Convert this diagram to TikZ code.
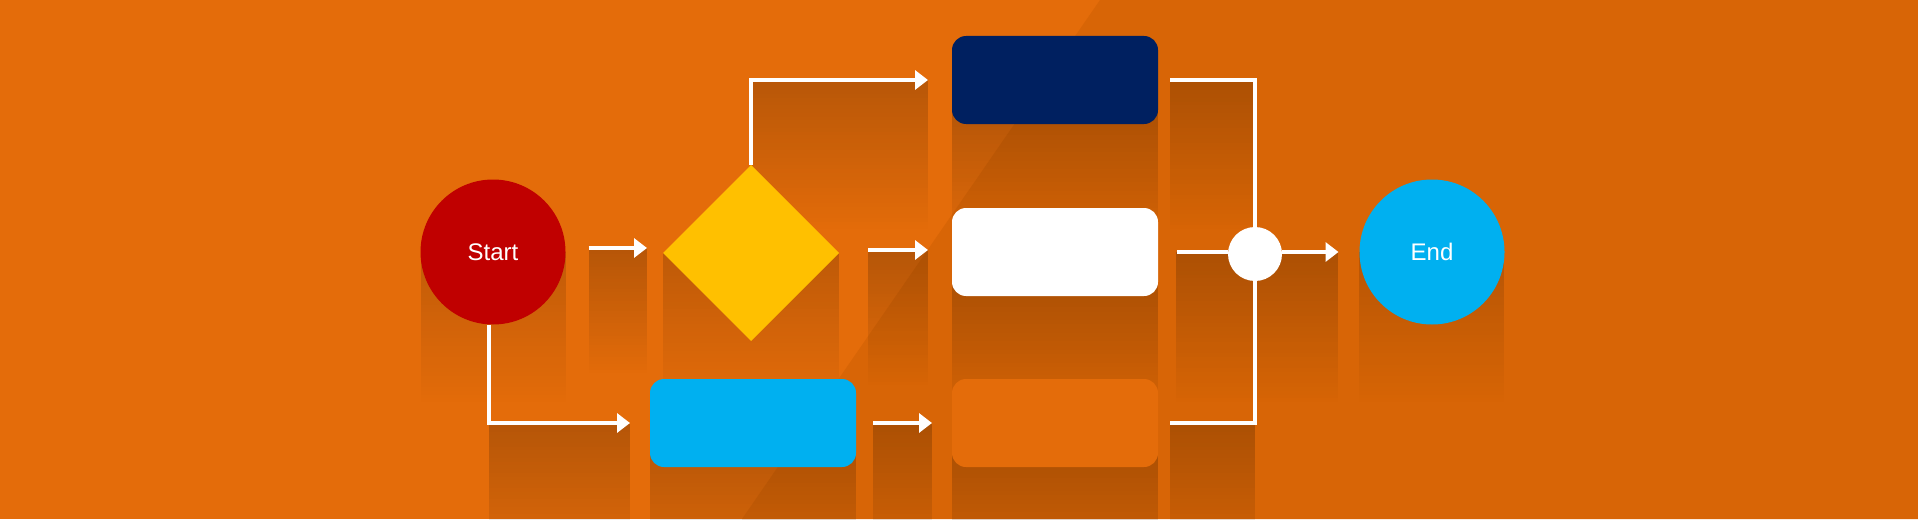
\documentclass[tikz,border=0pt]{standalone}
\usepackage{fontspec}
\setmainfont{Liberation Sans}
\usetikzlibrary{shapes.geometric,arrows.meta,calc}
\definecolor{bglight}{HTML}{E46C0A}
\definecolor{bgdark}{HTML}{D86506}
\definecolor{startred}{HTML}{C00000}
\definecolor{decgold}{HTML}{FFC000}
\definecolor{skyblue}{HTML}{00B0F0}
\definecolor{navyblue}{HTML}{002060}
\definecolor{procorange}{HTML}{E46C0A}
% x1, x2, top y, fade length, top opacity
\newcommand\shadowcol[5]{%
  \foreach \i in {0,...,39} {%
    \pgfmathsetmacro\op{#5*(1-\i/40)}%
    \fill[black, fill opacity=\op] (#1,{#3+\i*#4/40}) rectangle (#2,{#3+(\i+1)*#4/40});
  }%
}
\begin{document}
\begin{tikzpicture}[x=1pt,y=-1pt,
  shape base/.style={inner sep=0pt, outer sep=0pt, draw=none, text=white,
     font=\fontsize{24}{28}\selectfont},
  roundnode/.style={shape base, circle, minimum size=145pt},
  procbox/.style={shape base, rectangle, rounded corners=14pt, minimum width=206pt, minimum height=88pt},
  decbox/.style={shape base, diamond, minimum width=176pt, minimum height=176pt},
  juncnode/.style={shape base, circle, minimum size=54pt, fill=white},
  conn/.style={draw=white, line width=3.3pt, line join=miter, -{Triangle[length=13pt,width=19pt]}},
  wire/.style={draw=white, line width=3.3pt, line join=miter}
]
\useasboundingbox (0,0) rectangle (1918,519);
\clip (0,0) rectangle (1918,519);
% background
\fill[bglight] (0,0) rectangle (1918,519);
\fill[bgdark] (1100,0) -- (1918,0) -- (1918,519) -- (742,519) -- cycle;
% long shadows
\shadowcol{421}{566}{252}{150}{0.15}
\shadowcol{589}{647}{248}{125}{0.2}
\shadowcol{663}{839}{253}{150}{0.16}
\shadowcol{751}{928}{79}{150}{0.19}
\shadowcol{868}{928}{250}{135}{0.2}
\shadowcol{489}{630}{424}{150}{0.2}
\shadowcol{650}{856}{423}{170}{0.22}
\shadowcol{873}{932}{424}{150}{0.2}
\shadowcol{952}{1158}{80}{170}{0.24}
\shadowcol{952}{1158}{252}{170}{0.24}
\shadowcol{952}{1158}{423}{170}{0.24}
\shadowcol{1170}{1255}{79}{150}{0.2}
\shadowcol{1176}{1338}{252}{150}{0.2}
\shadowcol{1170}{1255}{424}{150}{0.2}
\shadowcol{1359}{1504}{252}{150}{0.15}
% nodes
\node[roundnode, fill=startred] (start) at (493,252) {Start};
\node[decbox, fill=decgold] (dec) at (751,253) {};
\node[procbox, fill=skyblue] (blue) at (753,423) {};
\node[procbox, fill=navyblue] (navy) at (1055,80) {};
\node[procbox, fill=white] (white) at (1055,252) {};
\node[procbox, fill=procorange] (orange) at (1055,423) {};
\node[juncnode] (junc) at (1255,254) {};
\node[roundnode, fill=skyblue] (end) at (1432,252) {End};
% connectors
\draw[conn, shorten <=23pt, shorten >=16pt] ([yshift=4pt]start.east) -- ([yshift=4pt]start.east -| dec.west);
\draw[conn, shorten >=24pt] (dec.north) |- (navy.west);
\draw[conn, shorten <=29pt, shorten >=24pt] ([yshift=2pt]white.west -| dec.east) -- ([yshift=2pt]white.west);
\draw[conn, shorten >=20pt] ([xshift=-4pt]start.south) |- (blue.west);
\draw[conn, shorten <=17pt, shorten >=20pt] (blue.east) -- (orange.west);
\draw[wire, shorten <=12pt] (navy.east) -| (junc.north);
\draw[wire, shorten <=19pt] (white.east) -- (white.east -| junc.west);
\draw[wire, shorten <=12pt] (orange.east) -| (junc.south);
\draw[conn, shorten >=21pt] (junc.east |- end.west) -- (end.west);
\end{tikzpicture}
\end{document}
